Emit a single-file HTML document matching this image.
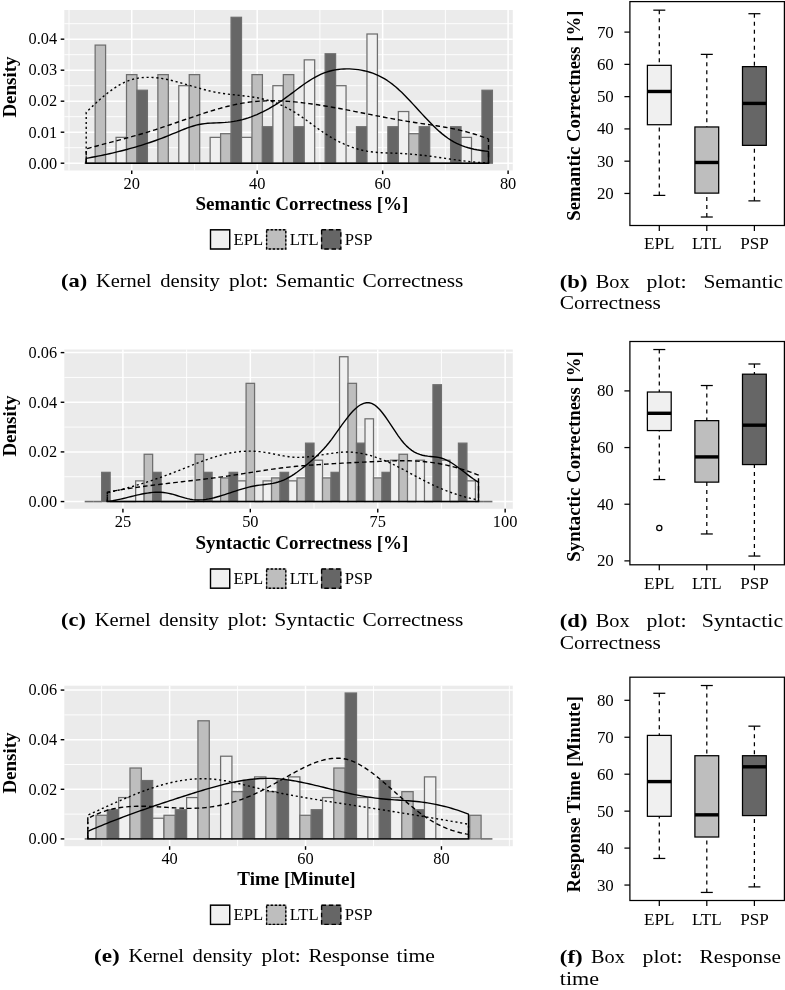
<!DOCTYPE html>
<html lang="en"><head><meta charset="utf-8"><title>Kernel density plots and box plots</title>
<style>
html,body{margin:0;padding:0;background:#fff;}
body{width:785px;height:990px;overflow:hidden;}
svg{display:block;font-family:'Liberation Serif', 'DejaVu Serif', serif;}
text{fill:#000;}
</style></head><body>
<svg width="785" height="990" viewBox="0 0 785 990">
<rect width="785" height="990" fill="#fff"/>
<g>
<rect x="64.3" y="10" width="448.5" height="160.5" fill="#ebebeb"/>
<line x1="64.3" x2="512.8" y1="147.7" y2="147.7" stroke="#fff" stroke-width="0.9"/>
<line x1="64.3" x2="512.8" y1="116.7" y2="116.7" stroke="#fff" stroke-width="0.9"/>
<line x1="64.3" x2="512.8" y1="85.69" y2="85.69" stroke="#fff" stroke-width="0.9"/>
<line x1="64.3" x2="512.8" y1="54.68" y2="54.68" stroke="#fff" stroke-width="0.9"/>
<line x1="64.3" x2="512.8" y1="23.68" y2="23.68" stroke="#fff" stroke-width="0.9"/>
<line y1="10" y2="170.5" x1="69" x2="69" stroke="#fff" stroke-width="0.9"/>
<line y1="10" y2="170.5" x1="194.46" x2="194.46" stroke="#fff" stroke-width="0.9"/>
<line y1="10" y2="170.5" x1="319.91" x2="319.91" stroke="#fff" stroke-width="0.9"/>
<line y1="10" y2="170.5" x1="445.37" x2="445.37" stroke="#fff" stroke-width="0.9"/>
<line x1="64.3" x2="512.8" y1="163.2" y2="163.2" stroke="#fff" stroke-width="1.5"/>
<line x1="64.3" x2="512.8" y1="132.2" y2="132.2" stroke="#fff" stroke-width="1.5"/>
<line x1="64.3" x2="512.8" y1="101.19" y2="101.19" stroke="#fff" stroke-width="1.5"/>
<line x1="64.3" x2="512.8" y1="70.19" y2="70.19" stroke="#fff" stroke-width="1.5"/>
<line x1="64.3" x2="512.8" y1="39.18" y2="39.18" stroke="#fff" stroke-width="1.5"/>
<line y1="10" y2="170.5" x1="131.73" x2="131.73" stroke="#fff" stroke-width="1.5"/>
<line y1="10" y2="170.5" x1="257.19" x2="257.19" stroke="#fff" stroke-width="1.5"/>
<line y1="10" y2="170.5" x1="382.64" x2="382.64" stroke="#fff" stroke-width="1.5"/>
<line y1="10" y2="170.5" x1="508.1" x2="508.1" stroke="#fff" stroke-width="1.5"/>
<line x1="84.69" x2="95.14" y1="163.2" y2="163.2" stroke="#6e6e6e" stroke-width="1.6"/>
<rect x="95.14" y="45.09" width="10.45" height="118.12" fill="#bebebe" stroke="#6e6e6e" stroke-width="1.25"/>
<line x1="105.6" x2="116.05" y1="163.2" y2="163.2" stroke="#6e6e6e" stroke-width="1.6"/>
<rect x="116.05" y="137.37" width="10.45" height="25.84" fill="#f0f0f0" stroke="#6e6e6e" stroke-width="1.25"/>
<rect x="126.5" y="74.62" width="10.45" height="88.59" fill="#bebebe" stroke="#6e6e6e" stroke-width="1.25"/>
<rect x="136.96" y="90.25" width="10.45" height="72.95" fill="#666666" stroke="#6e6e6e" stroke-width="1.25"/>
<line x1="147.41" x2="157.87" y1="163.2" y2="163.2" stroke="#6e6e6e" stroke-width="1.6"/>
<rect x="157.87" y="74.62" width="10.45" height="88.59" fill="#bebebe" stroke="#6e6e6e" stroke-width="1.25"/>
<line x1="168.32" x2="178.78" y1="163.2" y2="163.2" stroke="#6e6e6e" stroke-width="1.6"/>
<rect x="178.78" y="85.69" width="10.45" height="77.51" fill="#f0f0f0" stroke="#6e6e6e" stroke-width="1.25"/>
<rect x="189.23" y="74.62" width="10.45" height="88.59" fill="#bebebe" stroke="#6e6e6e" stroke-width="1.25"/>
<line x1="199.69" x2="210.14" y1="163.2" y2="163.2" stroke="#6e6e6e" stroke-width="1.6"/>
<rect x="210.14" y="137.37" width="10.45" height="25.84" fill="#f0f0f0" stroke="#6e6e6e" stroke-width="1.25"/>
<rect x="220.6" y="133.68" width="10.45" height="29.53" fill="#bebebe" stroke="#6e6e6e" stroke-width="1.25"/>
<rect x="231.05" y="17.3" width="10.45" height="145.91" fill="#666666" stroke="#6e6e6e" stroke-width="1.25"/>
<rect x="241.5" y="137.37" width="10.45" height="25.84" fill="#f0f0f0" stroke="#6e6e6e" stroke-width="1.25"/>
<rect x="251.96" y="74.62" width="10.45" height="88.59" fill="#bebebe" stroke="#6e6e6e" stroke-width="1.25"/>
<rect x="262.41" y="126.73" width="10.45" height="36.48" fill="#666666" stroke="#6e6e6e" stroke-width="1.25"/>
<rect x="272.87" y="85.69" width="10.45" height="77.51" fill="#f0f0f0" stroke="#6e6e6e" stroke-width="1.25"/>
<rect x="283.32" y="74.62" width="10.45" height="88.59" fill="#bebebe" stroke="#6e6e6e" stroke-width="1.25"/>
<rect x="293.78" y="126.73" width="10.45" height="36.48" fill="#666666" stroke="#6e6e6e" stroke-width="1.25"/>
<rect x="304.23" y="59.85" width="10.45" height="103.35" fill="#f0f0f0" stroke="#6e6e6e" stroke-width="1.25"/>
<line x1="314.69" x2="325.14" y1="163.2" y2="163.2" stroke="#6e6e6e" stroke-width="1.6"/>
<rect x="325.14" y="53.77" width="10.45" height="109.43" fill="#666666" stroke="#6e6e6e" stroke-width="1.25"/>
<rect x="335.6" y="85.69" width="10.45" height="77.51" fill="#f0f0f0" stroke="#6e6e6e" stroke-width="1.25"/>
<line x1="346.05" x2="356.5" y1="163.2" y2="163.2" stroke="#6e6e6e" stroke-width="1.6"/>
<rect x="356.5" y="126.73" width="10.45" height="36.48" fill="#666666" stroke="#6e6e6e" stroke-width="1.25"/>
<rect x="366.96" y="34.01" width="10.45" height="129.19" fill="#f0f0f0" stroke="#6e6e6e" stroke-width="1.25"/>
<line x1="377.41" x2="387.87" y1="163.2" y2="163.2" stroke="#6e6e6e" stroke-width="1.6"/>
<rect x="387.87" y="126.73" width="10.45" height="36.48" fill="#666666" stroke="#6e6e6e" stroke-width="1.25"/>
<rect x="398.32" y="111.53" width="10.45" height="51.68" fill="#f0f0f0" stroke="#6e6e6e" stroke-width="1.25"/>
<rect x="408.78" y="133.68" width="10.45" height="29.53" fill="#bebebe" stroke="#6e6e6e" stroke-width="1.25"/>
<rect x="419.23" y="126.73" width="10.45" height="36.48" fill="#666666" stroke="#6e6e6e" stroke-width="1.25"/>
<line x1="429.69" x2="440.14" y1="163.2" y2="163.2" stroke="#6e6e6e" stroke-width="1.6"/>
<line x1="440.14" x2="450.6" y1="163.2" y2="163.2" stroke="#6e6e6e" stroke-width="1.6"/>
<rect x="450.6" y="126.73" width="10.45" height="36.48" fill="#666666" stroke="#6e6e6e" stroke-width="1.25"/>
<rect x="461.05" y="137.37" width="10.45" height="25.84" fill="#f0f0f0" stroke="#6e6e6e" stroke-width="1.25"/>
<line x1="471.5" x2="481.96" y1="163.2" y2="163.2" stroke="#6e6e6e" stroke-width="1.6"/>
<rect x="481.96" y="90.25" width="10.45" height="72.95" fill="#666666" stroke="#6e6e6e" stroke-width="1.25"/>
<path d="M86.2,163.2 L86.2,158.33 L89.09,157.81 L91.99,157.27 L94.88,156.72 L97.78,156.15 L100.67,155.57 L103.57,154.97 L106.46,154.35 L109.35,153.71 L112.25,153.06 L115.14,152.38 L118.04,151.69 L120.93,150.97 L123.83,150.23 L126.72,149.47 L129.61,148.69 L132.51,147.88 L135.4,147.05 L138.3,146.19 L141.19,145.31 L144.08,144.4 L146.98,143.46 L149.87,142.5 L152.77,141.51 L155.66,140.49 L158.56,139.44 L161.45,138.36 L164.34,137.25 L167.24,136.1 L170.13,134.93 L173.03,133.73 L175.92,132.52 L178.82,131.31 L181.71,130.13 L184.6,128.99 L187.5,127.91 L190.39,126.91 L193.29,125.99 L196.18,125.19 L199.08,124.52 L201.97,123.99 L204.86,123.59 L207.76,123.3 L210.65,123.09 L213.55,122.94 L216.44,122.82 L219.34,122.71 L222.23,122.59 L225.12,122.42 L228.02,122.18 L230.91,121.86 L233.81,121.43 L236.7,120.91 L239.59,120.28 L242.49,119.56 L245.38,118.74 L248.28,117.83 L251.17,116.82 L254.07,115.72 L256.96,114.53 L259.85,113.24 L262.75,111.86 L265.64,110.4 L268.54,108.84 L271.43,107.19 L274.33,105.46 L277.22,103.64 L280.11,101.74 L283.01,99.75 L285.9,97.68 L288.8,95.56 L291.69,93.39 L294.59,91.21 L297.48,89.04 L300.37,86.89 L303.27,84.79 L306.16,82.76 L309.06,80.82 L311.95,79 L314.85,77.3 L317.74,75.77 L320.63,74.4 L323.53,73.2 L326.42,72.15 L329.32,71.26 L332.21,70.52 L335.11,69.93 L338,69.47 L340.89,69.15 L343.79,68.95 L346.68,68.87 L349.58,68.92 L352.47,69.07 L355.36,69.33 L358.26,69.69 L361.15,70.16 L364.05,70.73 L366.94,71.43 L369.84,72.26 L372.73,73.22 L375.62,74.33 L378.52,75.61 L381.41,77.05 L384.31,78.66 L387.2,80.46 L390.1,82.46 L392.99,84.66 L395.88,87.06 L398.78,89.64 L401.67,92.37 L404.57,95.23 L407.46,98.21 L410.36,101.27 L413.25,104.39 L416.14,107.54 L419.04,110.71 L421.93,113.87 L424.83,117 L427.72,120.08 L430.62,123.08 L433.51,125.98 L436.4,128.76 L439.3,131.39 L442.19,133.86 L445.09,136.15 L447.98,138.23 L450.87,140.1 L453.77,141.78 L456.66,143.29 L459.56,144.62 L462.45,145.8 L465.35,146.84 L468.24,147.74 L471.13,148.53 L474.03,149.21 L476.92,149.79 L479.82,150.28 L482.71,150.71 L485.61,151.08 L488.5,151.39 L488.5,163.2" fill="none" stroke="#000" stroke-width="1.38" stroke-linejoin="round"/>
<path d="M86.2,163.2 L86.2,112.34 L89.09,109.51 L91.99,106.73 L94.88,104.01 L97.78,101.36 L100.67,98.79 L103.57,96.32 L106.46,93.96 L109.35,91.72 L112.25,89.6 L115.14,87.63 L118.04,85.81 L120.93,84.16 L123.83,82.68 L126.72,81.39 L129.61,80.3 L132.51,79.39 L135.4,78.66 L138.3,78.1 L141.19,77.7 L144.08,77.44 L146.98,77.32 L149.87,77.33 L152.77,77.45 L155.66,77.69 L158.56,78.02 L161.45,78.43 L164.34,78.93 L167.24,79.5 L170.13,80.13 L173.03,80.82 L175.92,81.55 L178.82,82.33 L181.71,83.14 L184.6,83.97 L187.5,84.81 L190.39,85.67 L193.29,86.52 L196.18,87.37 L199.08,88.2 L201.97,89.01 L204.86,89.78 L207.76,90.52 L210.65,91.2 L213.55,91.83 L216.44,92.4 L219.34,92.91 L222.23,93.36 L225.12,93.76 L228.02,94.13 L230.91,94.47 L233.81,94.79 L236.7,95.11 L239.59,95.42 L242.49,95.74 L245.38,96.08 L248.28,96.44 L251.17,96.84 L254.07,97.28 L256.96,97.78 L259.85,98.33 L262.75,98.96 L265.64,99.67 L268.54,100.47 L271.43,101.36 L274.33,102.35 L277.22,103.44 L280.11,104.63 L283.01,105.92 L285.9,107.32 L288.8,108.83 L291.69,110.46 L294.59,112.19 L297.48,114.04 L300.37,115.98 L303.27,117.99 L306.16,120.06 L309.06,122.16 L311.95,124.28 L314.85,126.39 L317.74,128.48 L320.63,130.53 L323.53,132.52 L326.42,134.43 L329.32,136.24 L332.21,137.97 L335.11,139.61 L338,141.15 L340.89,142.59 L343.79,143.95 L346.68,145.2 L349.58,146.36 L352.47,147.42 L355.36,148.37 L358.26,149.23 L361.15,149.99 L364.05,150.64 L366.94,151.19 L369.84,151.64 L372.73,152 L375.62,152.29 L378.52,152.51 L381.41,152.69 L384.31,152.83 L387.2,152.94 L390.1,153.03 L392.99,153.12 L395.88,153.22 L398.78,153.34 L401.67,153.49 L404.57,153.67 L407.46,153.87 L410.36,154.09 L413.25,154.34 L416.14,154.62 L419.04,154.91 L421.93,155.23 L424.83,155.56 L427.72,155.91 L430.62,156.28 L433.51,156.67 L436.4,157.07 L439.3,157.49 L442.19,157.92 L445.09,158.35 L447.98,158.78 L450.87,159.21 L453.77,159.63 L456.66,160.04 L459.56,160.44 L462.45,160.82 L465.35,161.17 L468.24,161.49 L471.13,161.79 L474.03,162.05 L476.92,162.26 L479.82,162.44 L482.71,162.56 L485.61,162.64 L488.5,162.65 L488.5,163.2" fill="none" stroke="#000" stroke-width="1.38" stroke-linejoin="round" stroke-dasharray="2.1 2.8"/>
<path d="M86.2,163.2 L86.2,148.98 L89.09,148.14 L91.99,147.32 L94.88,146.52 L97.78,145.72 L100.67,144.94 L103.57,144.16 L106.46,143.39 L109.35,142.63 L112.25,141.86 L115.14,141.1 L118.04,140.34 L120.93,139.57 L123.83,138.8 L126.72,138.03 L129.61,137.25 L132.51,136.45 L135.4,135.65 L138.3,134.83 L141.19,134 L144.08,133.15 L146.98,132.29 L149.87,131.4 L152.77,130.5 L155.66,129.57 L158.56,128.63 L161.45,127.68 L164.34,126.72 L167.24,125.74 L170.13,124.76 L173.03,123.77 L175.92,122.77 L178.82,121.77 L181.71,120.77 L184.6,119.77 L187.5,118.77 L190.39,117.78 L193.29,116.8 L196.18,115.82 L199.08,114.85 L201.97,113.89 L204.86,112.95 L207.76,112.02 L210.65,111.12 L213.55,110.23 L216.44,109.37 L219.34,108.54 L222.23,107.74 L225.12,106.97 L228.02,106.23 L230.91,105.53 L233.81,104.87 L236.7,104.26 L239.59,103.68 L242.49,103.16 L245.38,102.69 L248.28,102.27 L251.17,101.9 L254.07,101.59 L256.96,101.33 L259.85,101.13 L262.75,100.97 L265.64,100.85 L268.54,100.78 L271.43,100.76 L274.33,100.77 L277.22,100.83 L280.11,100.92 L283.01,101.05 L285.9,101.22 L288.8,101.41 L291.69,101.64 L294.59,101.9 L297.48,102.18 L300.37,102.49 L303.27,102.83 L306.16,103.18 L309.06,103.56 L311.95,103.96 L314.85,104.37 L317.74,104.8 L320.63,105.25 L323.53,105.72 L326.42,106.2 L329.32,106.69 L332.21,107.2 L335.11,107.71 L338,108.24 L340.89,108.78 L343.79,109.32 L346.68,109.87 L349.58,110.43 L352.47,111 L355.36,111.57 L358.26,112.14 L361.15,112.71 L364.05,113.29 L366.94,113.86 L369.84,114.44 L372.73,115.01 L375.62,115.58 L378.52,116.15 L381.41,116.71 L384.31,117.27 L387.2,117.82 L390.1,118.36 L392.99,118.89 L395.88,119.41 L398.78,119.92 L401.67,120.42 L404.57,120.91 L407.46,121.38 L410.36,121.84 L413.25,122.29 L416.14,122.73 L419.04,123.16 L421.93,123.59 L424.83,124.01 L427.72,124.44 L430.62,124.88 L433.51,125.32 L436.4,125.78 L439.3,126.24 L442.19,126.73 L445.09,127.23 L447.98,127.76 L450.87,128.31 L453.77,128.89 L456.66,129.5 L459.56,130.14 L462.45,130.82 L465.35,131.54 L468.24,132.3 L471.13,133.11 L474.03,133.97 L476.92,134.87 L479.82,135.83 L482.71,136.85 L485.61,137.92 L488.5,139.06 L488.5,163.2" fill="none" stroke="#000" stroke-width="1.38" stroke-linejoin="round" stroke-dasharray="4.6 3.0"/>
<line x1="85.5" x2="489.2" y1="163.2" y2="163.2" stroke="#000" stroke-width="1.4"/>
<line x1="60.7" x2="64.3" y1="163.2" y2="163.2" stroke="#000" stroke-width="1.4"/>
<text x="57.1" y="168.5" text-anchor="end" font-size="16.3">0.00</text>
<line x1="60.7" x2="64.3" y1="132.2" y2="132.2" stroke="#000" stroke-width="1.4"/>
<text x="57.1" y="137.5" text-anchor="end" font-size="16.3">0.01</text>
<line x1="60.7" x2="64.3" y1="101.19" y2="101.19" stroke="#000" stroke-width="1.4"/>
<text x="57.1" y="106.49" text-anchor="end" font-size="16.3">0.02</text>
<line x1="60.7" x2="64.3" y1="70.19" y2="70.19" stroke="#000" stroke-width="1.4"/>
<text x="57.1" y="75.49" text-anchor="end" font-size="16.3">0.03</text>
<line x1="60.7" x2="64.3" y1="39.18" y2="39.18" stroke="#000" stroke-width="1.4"/>
<text x="57.1" y="44.48" text-anchor="end" font-size="16.3">0.04</text>
<line y1="170.5" y2="174.1" x1="131.73" x2="131.73" stroke="#000" stroke-width="1.4"/>
<text x="131.73" y="189.1" text-anchor="middle" font-size="16.4">20</text>
<line y1="170.5" y2="174.1" x1="257.19" x2="257.19" stroke="#000" stroke-width="1.4"/>
<text x="257.19" y="189.1" text-anchor="middle" font-size="16.4">40</text>
<line y1="170.5" y2="174.1" x1="382.64" x2="382.64" stroke="#000" stroke-width="1.4"/>
<text x="382.64" y="189.1" text-anchor="middle" font-size="16.4">60</text>
<line y1="170.5" y2="174.1" x1="508.1" x2="508.1" stroke="#000" stroke-width="1.4"/>
<text x="508.1" y="189.1" text-anchor="middle" font-size="16.4">80</text>
<text x="301.9" y="209.7" text-anchor="middle" font-size="19" font-weight="bold">Semantic Correctness [%]</text>
<text transform="translate(16.3,87) rotate(-90)" text-anchor="middle" font-size="19" font-weight="bold">Density</text>
<rect x="210.5" y="229.8" width="19.2" height="19.2" fill="#f0f0f0" stroke="#6e6e6e" stroke-width="1"/>
<rect x="210.5" y="229.8" width="19.2" height="19.2" fill="none" stroke="#000" stroke-width="1.4"/>
<text x="233.6" y="244.8" font-size="16.6">EPL</text>
<rect x="266.6" y="229.8" width="19.2" height="19.2" fill="#bebebe" stroke="#6e6e6e" stroke-width="1"/>
<rect x="266.6" y="229.8" width="19.2" height="19.2" fill="none" stroke="#000" stroke-width="1.4" stroke-dasharray="2.2 1.9"/>
<text x="289.7" y="244.8" font-size="16.6">LTL</text>
<rect x="321.6" y="229.8" width="19.2" height="19.2" fill="#666666" stroke="#6e6e6e" stroke-width="1"/>
<rect x="321.6" y="229.8" width="19.2" height="19.2" fill="none" stroke="#000" stroke-width="1.4" stroke-dasharray="4.5 2.7"/>
<text x="344.7" y="244.8" font-size="16.6">PSP</text>
</g>
<g>
<rect x="64.3" y="349.5" width="448.5" height="159.3" fill="#ebebeb"/>
<line x1="64.3" x2="512.8" y1="476.73" y2="476.73" stroke="#fff" stroke-width="0.9"/>
<line x1="64.3" x2="512.8" y1="427.08" y2="427.08" stroke="#fff" stroke-width="0.9"/>
<line x1="64.3" x2="512.8" y1="377.43" y2="377.43" stroke="#fff" stroke-width="0.9"/>
<line y1="349.5" y2="508.8" x1="186.62" x2="186.62" stroke="#fff" stroke-width="0.9"/>
<line y1="349.5" y2="508.8" x1="314.03" x2="314.03" stroke="#fff" stroke-width="0.9"/>
<line y1="349.5" y2="508.8" x1="441.45" x2="441.45" stroke="#fff" stroke-width="0.9"/>
<line x1="64.3" x2="512.8" y1="501.56" y2="501.56" stroke="#fff" stroke-width="1.5"/>
<line x1="64.3" x2="512.8" y1="451.91" y2="451.91" stroke="#fff" stroke-width="1.5"/>
<line x1="64.3" x2="512.8" y1="402.26" y2="402.26" stroke="#fff" stroke-width="1.5"/>
<line x1="64.3" x2="512.8" y1="352.6" y2="352.6" stroke="#fff" stroke-width="1.5"/>
<line y1="349.5" y2="508.8" x1="122.91" x2="122.91" stroke="#fff" stroke-width="1.5"/>
<line y1="349.5" y2="508.8" x1="250.33" x2="250.33" stroke="#fff" stroke-width="1.5"/>
<line y1="349.5" y2="508.8" x1="377.74" x2="377.74" stroke="#fff" stroke-width="1.5"/>
<line y1="349.5" y2="508.8" x1="505.16" x2="505.16" stroke="#fff" stroke-width="1.5"/>
<line x1="84.69" x2="93.18" y1="501.56" y2="501.56" stroke="#6e6e6e" stroke-width="1.6"/>
<line x1="93.18" x2="101.67" y1="501.56" y2="501.56" stroke="#6e6e6e" stroke-width="1.6"/>
<rect x="101.67" y="472.35" width="8.49" height="29.21" fill="#666666" stroke="#6e6e6e" stroke-width="1.25"/>
<line x1="110.17" x2="118.66" y1="501.56" y2="501.56" stroke="#6e6e6e" stroke-width="1.6"/>
<line x1="118.66" x2="127.16" y1="501.56" y2="501.56" stroke="#6e6e6e" stroke-width="1.6"/>
<line x1="127.16" x2="135.65" y1="501.56" y2="501.56" stroke="#6e6e6e" stroke-width="1.6"/>
<rect x="135.65" y="480.87" width="8.49" height="20.69" fill="#f0f0f0" stroke="#6e6e6e" stroke-width="1.25"/>
<rect x="144.15" y="454.27" width="8.49" height="47.29" fill="#bebebe" stroke="#6e6e6e" stroke-width="1.25"/>
<rect x="152.64" y="472.35" width="8.49" height="29.21" fill="#666666" stroke="#6e6e6e" stroke-width="1.25"/>
<line x1="161.14" x2="169.63" y1="501.56" y2="501.56" stroke="#6e6e6e" stroke-width="1.6"/>
<line x1="169.63" x2="178.12" y1="501.56" y2="501.56" stroke="#6e6e6e" stroke-width="1.6"/>
<line x1="178.12" x2="186.62" y1="501.56" y2="501.56" stroke="#6e6e6e" stroke-width="1.6"/>
<line x1="186.62" x2="195.11" y1="501.56" y2="501.56" stroke="#6e6e6e" stroke-width="1.6"/>
<rect x="195.11" y="454.27" width="8.49" height="47.29" fill="#bebebe" stroke="#6e6e6e" stroke-width="1.25"/>
<rect x="203.61" y="472.35" width="8.49" height="29.21" fill="#666666" stroke="#6e6e6e" stroke-width="1.25"/>
<line x1="212.1" x2="220.6" y1="501.56" y2="501.56" stroke="#6e6e6e" stroke-width="1.6"/>
<rect x="220.6" y="477.92" width="8.49" height="23.64" fill="#bebebe" stroke="#6e6e6e" stroke-width="1.25"/>
<rect x="229.09" y="472.35" width="8.49" height="29.21" fill="#666666" stroke="#6e6e6e" stroke-width="1.25"/>
<rect x="237.58" y="480.87" width="8.49" height="20.69" fill="#f0f0f0" stroke="#6e6e6e" stroke-width="1.25"/>
<rect x="246.08" y="383.34" width="8.49" height="118.22" fill="#bebebe" stroke="#6e6e6e" stroke-width="1.25"/>
<line x1="254.57" x2="263.07" y1="501.56" y2="501.56" stroke="#6e6e6e" stroke-width="1.6"/>
<rect x="263.07" y="480.87" width="8.49" height="20.69" fill="#f0f0f0" stroke="#6e6e6e" stroke-width="1.25"/>
<rect x="271.56" y="477.92" width="8.49" height="23.64" fill="#bebebe" stroke="#6e6e6e" stroke-width="1.25"/>
<rect x="280.06" y="472.35" width="8.49" height="29.21" fill="#666666" stroke="#6e6e6e" stroke-width="1.25"/>
<rect x="288.55" y="480.87" width="8.49" height="20.69" fill="#f0f0f0" stroke="#6e6e6e" stroke-width="1.25"/>
<rect x="297.04" y="477.92" width="8.49" height="23.64" fill="#bebebe" stroke="#6e6e6e" stroke-width="1.25"/>
<rect x="305.54" y="443.15" width="8.49" height="58.41" fill="#666666" stroke="#6e6e6e" stroke-width="1.25"/>
<rect x="314.03" y="460.18" width="8.49" height="41.38" fill="#f0f0f0" stroke="#6e6e6e" stroke-width="1.25"/>
<rect x="322.53" y="477.92" width="8.49" height="23.64" fill="#bebebe" stroke="#6e6e6e" stroke-width="1.25"/>
<rect x="331.02" y="472.35" width="8.49" height="29.21" fill="#666666" stroke="#6e6e6e" stroke-width="1.25"/>
<rect x="339.52" y="356.74" width="8.49" height="144.82" fill="#f0f0f0" stroke="#6e6e6e" stroke-width="1.25"/>
<rect x="348.01" y="383.34" width="8.49" height="118.22" fill="#bebebe" stroke="#6e6e6e" stroke-width="1.25"/>
<rect x="356.5" y="443.15" width="8.49" height="58.41" fill="#666666" stroke="#6e6e6e" stroke-width="1.25"/>
<rect x="365" y="418.81" width="8.49" height="82.75" fill="#f0f0f0" stroke="#6e6e6e" stroke-width="1.25"/>
<rect x="373.49" y="477.92" width="8.49" height="23.64" fill="#bebebe" stroke="#6e6e6e" stroke-width="1.25"/>
<rect x="381.99" y="472.35" width="8.49" height="29.21" fill="#666666" stroke="#6e6e6e" stroke-width="1.25"/>
<rect x="390.48" y="460.18" width="8.49" height="41.38" fill="#f0f0f0" stroke="#6e6e6e" stroke-width="1.25"/>
<rect x="398.98" y="454.27" width="8.49" height="47.29" fill="#bebebe" stroke="#6e6e6e" stroke-width="1.25"/>
<line x1="407.47" x2="415.96" y1="501.56" y2="501.56" stroke="#6e6e6e" stroke-width="1.6"/>
<rect x="415.96" y="460.18" width="8.49" height="41.38" fill="#f0f0f0" stroke="#6e6e6e" stroke-width="1.25"/>
<line x1="424.46" x2="432.95" y1="501.56" y2="501.56" stroke="#6e6e6e" stroke-width="1.6"/>
<rect x="432.95" y="384.73" width="8.49" height="116.83" fill="#666666" stroke="#6e6e6e" stroke-width="1.25"/>
<rect x="441.45" y="460.18" width="8.49" height="41.38" fill="#f0f0f0" stroke="#6e6e6e" stroke-width="1.25"/>
<line x1="449.94" x2="458.44" y1="501.56" y2="501.56" stroke="#6e6e6e" stroke-width="1.6"/>
<rect x="458.44" y="443.15" width="8.49" height="58.41" fill="#666666" stroke="#6e6e6e" stroke-width="1.25"/>
<rect x="466.93" y="480.87" width="8.49" height="20.69" fill="#f0f0f0" stroke="#6e6e6e" stroke-width="1.25"/>
<line x1="475.42" x2="483.92" y1="501.56" y2="501.56" stroke="#6e6e6e" stroke-width="1.6"/>
<line x1="483.92" x2="492.41" y1="501.56" y2="501.56" stroke="#6e6e6e" stroke-width="1.6"/>
<path d="M107.3,501.56 L107.3,501.39 L109.97,501.08 L112.64,500.69 L115.31,500.22 L117.98,499.69 L120.65,499.1 L123.32,498.48 L125.99,497.83 L128.66,497.17 L131.33,496.5 L134.01,495.84 L136.68,495.2 L139.35,494.59 L142.02,494.02 L144.69,493.51 L147.36,493.07 L150.03,492.7 L152.7,492.43 L155.37,492.25 L158.04,492.19 L160.71,492.26 L163.38,492.46 L166.05,492.81 L168.72,493.32 L171.39,493.96 L174.06,494.7 L176.73,495.5 L179.4,496.32 L182.07,497.14 L184.74,497.92 L187.42,498.62 L190.09,499.2 L192.76,499.64 L195.43,499.91 L198.1,499.99 L200.77,499.92 L203.44,499.71 L206.11,499.36 L208.78,498.9 L211.45,498.35 L214.12,497.71 L216.79,497 L219.46,496.24 L222.13,495.43 L224.8,494.58 L227.47,493.71 L230.14,492.83 L232.81,491.94 L235.48,491.06 L238.15,490.2 L240.83,489.36 L243.5,488.57 L246.17,487.82 L248.84,487.13 L251.51,486.52 L254.18,485.98 L256.85,485.54 L259.52,485.16 L262.19,484.83 L264.86,484.5 L267.53,484.16 L270.2,483.78 L272.87,483.31 L275.54,482.74 L278.21,482.03 L280.88,481.16 L283.55,480.09 L286.22,478.83 L288.89,477.39 L291.56,475.8 L294.24,474.07 L296.91,472.22 L299.58,470.26 L302.25,468.21 L304.92,466.09 L307.59,463.91 L310.26,461.68 L312.93,459.38 L315.6,456.97 L318.27,454.45 L320.94,451.79 L323.61,448.96 L326.28,445.95 L328.95,442.74 L331.62,439.3 L334.29,435.69 L336.96,431.97 L339.63,428.21 L342.3,424.47 L344.97,420.83 L347.65,417.33 L350.32,414.06 L352.99,411.08 L355.66,408.46 L358.33,406.26 L361,404.54 L363.67,403.35 L366.34,402.74 L369.01,402.75 L371.68,403.43 L374.35,404.81 L377.02,406.89 L379.69,409.56 L382.36,412.72 L385.03,416.26 L387.7,420.08 L390.37,424.07 L393.04,428.13 L395.71,432.16 L398.38,436.05 L401.06,439.7 L403.73,443 L406.4,445.87 L409.07,448.32 L411.74,450.37 L414.41,452.05 L417.08,453.41 L419.75,454.46 L422.42,455.25 L425.09,455.8 L427.76,456.17 L430.43,456.44 L433.1,456.69 L435.77,456.98 L438.44,457.4 L441.11,458.01 L443.78,458.88 L446.45,460.04 L449.12,461.43 L451.79,463.03 L454.47,464.79 L457.14,466.69 L459.81,468.68 L462.48,470.73 L465.15,472.81 L467.82,474.86 L470.49,476.87 L473.16,478.79 L475.83,480.58 L478.5,482.21 L478.5,501.56" fill="none" stroke="#000" stroke-width="1.38" stroke-linejoin="round"/>
<path d="M107.3,501.56 L107.3,492.74 L109.97,492.15 L112.64,491.54 L115.31,490.91 L117.98,490.27 L120.65,489.6 L123.32,488.91 L125.99,488.21 L128.66,487.48 L131.33,486.74 L134.01,485.98 L136.68,485.2 L139.35,484.4 L142.02,483.58 L144.69,482.74 L147.36,481.89 L150.03,481.02 L152.7,480.13 L155.37,479.22 L158.04,478.29 L160.71,477.35 L163.38,476.39 L166.05,475.42 L168.72,474.42 L171.39,473.42 L174.06,472.39 L176.73,471.35 L179.4,470.29 L182.07,469.22 L184.74,468.15 L187.42,467.08 L190.09,466 L192.76,464.93 L195.43,463.88 L198.1,462.83 L200.77,461.81 L203.44,460.81 L206.11,459.84 L208.78,458.9 L211.45,457.99 L214.12,457.12 L216.79,456.3 L219.46,455.53 L222.13,454.81 L224.8,454.15 L227.47,453.54 L230.14,453.01 L232.81,452.54 L235.48,452.13 L238.15,451.8 L240.83,451.53 L243.5,451.33 L246.17,451.21 L248.84,451.15 L251.51,451.17 L254.18,451.26 L256.85,451.42 L259.52,451.66 L262.19,451.97 L264.86,452.36 L267.53,452.81 L270.2,453.3 L272.87,453.83 L275.54,454.37 L278.21,454.9 L280.88,455.43 L283.55,455.91 L286.22,456.35 L288.89,456.72 L291.56,457.01 L294.24,457.21 L296.91,457.32 L299.58,457.34 L302.25,457.27 L304.92,457.12 L307.59,456.89 L310.26,456.6 L312.93,456.26 L315.6,455.87 L318.27,455.46 L320.94,455.02 L323.61,454.58 L326.28,454.14 L328.95,453.72 L331.62,453.32 L334.29,452.95 L336.96,452.63 L339.63,452.37 L342.3,452.18 L344.97,452.07 L347.65,452.05 L350.32,452.13 L352.99,452.3 L355.66,452.56 L358.33,452.91 L361,453.35 L363.67,453.87 L366.34,454.48 L369.01,455.16 L371.68,455.92 L374.35,456.75 L377.02,457.65 L379.69,458.62 L382.36,459.66 L385.03,460.76 L387.7,461.92 L390.37,463.13 L393.04,464.4 L395.71,465.7 L398.38,467.04 L401.06,468.41 L403.73,469.81 L406.4,471.22 L409.07,472.65 L411.74,474.08 L414.41,475.51 L417.08,476.94 L419.75,478.35 L422.42,479.75 L425.09,481.12 L427.76,482.46 L430.43,483.77 L433.1,485.04 L435.77,486.26 L438.44,487.45 L441.11,488.6 L443.78,489.7 L446.45,490.77 L449.12,491.79 L451.79,492.76 L454.47,493.69 L457.14,494.58 L459.81,495.42 L462.48,496.22 L465.15,496.97 L467.82,497.67 L470.49,498.32 L473.16,498.92 L475.83,499.48 L478.5,499.98 L478.5,501.56" fill="none" stroke="#000" stroke-width="1.38" stroke-linejoin="round" stroke-dasharray="2.1 2.8"/>
<path d="M107.3,501.56 L107.3,492.12 L109.97,491.63 L112.64,491.16 L115.31,490.69 L117.98,490.24 L120.65,489.8 L123.32,489.37 L125.99,488.95 L128.66,488.54 L131.33,488.14 L134.01,487.75 L136.68,487.37 L139.35,487 L142.02,486.63 L144.69,486.27 L147.36,485.92 L150.03,485.58 L152.7,485.24 L155.37,484.9 L158.04,484.57 L160.71,484.24 L163.38,483.92 L166.05,483.6 L168.72,483.29 L171.39,482.97 L174.06,482.66 L176.73,482.35 L179.4,482.04 L182.07,481.73 L184.74,481.42 L187.42,481.11 L190.09,480.8 L192.76,480.49 L195.43,480.18 L198.1,479.86 L200.77,479.54 L203.44,479.21 L206.11,478.89 L208.78,478.55 L211.45,478.22 L214.12,477.87 L216.79,477.52 L219.46,477.17 L222.13,476.81 L224.8,476.44 L227.47,476.06 L230.14,475.67 L232.81,475.28 L235.48,474.88 L238.15,474.47 L240.83,474.05 L243.5,473.63 L246.17,473.21 L248.84,472.79 L251.51,472.37 L254.18,471.95 L256.85,471.53 L259.52,471.11 L262.19,470.7 L264.86,470.29 L267.53,469.89 L270.2,469.5 L272.87,469.12 L275.54,468.74 L278.21,468.38 L280.88,468.03 L283.55,467.7 L286.22,467.38 L288.89,467.08 L291.56,466.79 L294.24,466.52 L296.91,466.27 L299.58,466.02 L302.25,465.79 L304.92,465.57 L307.59,465.36 L310.26,465.16 L312.93,464.97 L315.6,464.79 L318.27,464.61 L320.94,464.44 L323.61,464.27 L326.28,464.11 L328.95,463.95 L331.62,463.79 L334.29,463.63 L336.96,463.48 L339.63,463.33 L342.3,463.18 L344.97,463.04 L347.65,462.89 L350.32,462.75 L352.99,462.62 L355.66,462.48 L358.33,462.35 L361,462.22 L363.67,462.09 L366.34,461.96 L369.01,461.83 L371.68,461.71 L374.35,461.59 L377.02,461.47 L379.69,461.35 L382.36,461.24 L385.03,461.13 L387.7,461.02 L390.37,460.93 L393.04,460.85 L395.71,460.78 L398.38,460.73 L401.06,460.7 L403.73,460.69 L406.4,460.71 L409.07,460.75 L411.74,460.83 L414.41,460.93 L417.08,461.07 L419.75,461.25 L422.42,461.46 L425.09,461.71 L427.76,462 L430.43,462.32 L433.1,462.69 L435.77,463.1 L438.44,463.54 L441.11,464.02 L443.78,464.55 L446.45,465.11 L449.12,465.72 L451.79,466.37 L454.47,467.05 L457.14,467.78 L459.81,468.56 L462.48,469.37 L465.15,470.23 L467.82,471.13 L470.49,472.07 L473.16,473.06 L475.83,474.1 L478.5,475.17 L478.5,501.56" fill="none" stroke="#000" stroke-width="1.38" stroke-linejoin="round" stroke-dasharray="4.6 3.0"/>
<line x1="106.6" x2="479.2" y1="501.56" y2="501.56" stroke="#000" stroke-width="1.4"/>
<line x1="60.7" x2="64.3" y1="501.56" y2="501.56" stroke="#000" stroke-width="1.4"/>
<text x="57.1" y="506.86" text-anchor="end" font-size="16.3">0.00</text>
<line x1="60.7" x2="64.3" y1="451.91" y2="451.91" stroke="#000" stroke-width="1.4"/>
<text x="57.1" y="457.21" text-anchor="end" font-size="16.3">0.02</text>
<line x1="60.7" x2="64.3" y1="402.26" y2="402.26" stroke="#000" stroke-width="1.4"/>
<text x="57.1" y="407.56" text-anchor="end" font-size="16.3">0.04</text>
<line x1="60.7" x2="64.3" y1="352.6" y2="352.6" stroke="#000" stroke-width="1.4"/>
<text x="57.1" y="357.9" text-anchor="end" font-size="16.3">0.06</text>
<line y1="508.8" y2="512.4" x1="122.91" x2="122.91" stroke="#000" stroke-width="1.4"/>
<text x="122.91" y="527.1" text-anchor="middle" font-size="16.4">25</text>
<line y1="508.8" y2="512.4" x1="250.33" x2="250.33" stroke="#000" stroke-width="1.4"/>
<text x="250.33" y="527.1" text-anchor="middle" font-size="16.4">50</text>
<line y1="508.8" y2="512.4" x1="377.74" x2="377.74" stroke="#000" stroke-width="1.4"/>
<text x="377.74" y="527.1" text-anchor="middle" font-size="16.4">75</text>
<line y1="508.8" y2="512.4" x1="505.16" x2="505.16" stroke="#000" stroke-width="1.4"/>
<text x="505.16" y="527.1" text-anchor="middle" font-size="16.4">100</text>
<text x="301.9" y="549.3" text-anchor="middle" font-size="19" font-weight="bold">Syntactic Correctness [%]</text>
<text transform="translate(16.3,426) rotate(-90)" text-anchor="middle" font-size="19" font-weight="bold">Density</text>
<rect x="210.5" y="569" width="19.2" height="19.2" fill="#f0f0f0" stroke="#6e6e6e" stroke-width="1"/>
<rect x="210.5" y="569" width="19.2" height="19.2" fill="none" stroke="#000" stroke-width="1.4"/>
<text x="233.6" y="584" font-size="16.6">EPL</text>
<rect x="266.6" y="569" width="19.2" height="19.2" fill="#bebebe" stroke="#6e6e6e" stroke-width="1"/>
<rect x="266.6" y="569" width="19.2" height="19.2" fill="none" stroke="#000" stroke-width="1.4" stroke-dasharray="2.2 1.9"/>
<text x="289.7" y="584" font-size="16.6">LTL</text>
<rect x="321.6" y="569" width="19.2" height="19.2" fill="#666666" stroke="#6e6e6e" stroke-width="1"/>
<rect x="321.6" y="569" width="19.2" height="19.2" fill="none" stroke="#000" stroke-width="1.4" stroke-dasharray="4.5 2.7"/>
<text x="344.7" y="584" font-size="16.6">PSP</text>
</g>
<g>
<rect x="64.3" y="685.7" width="448.5" height="160.5" fill="#ebebeb"/>
<line x1="64.3" x2="512.8" y1="814.1" y2="814.1" stroke="#fff" stroke-width="0.9"/>
<line x1="64.3" x2="512.8" y1="764.49" y2="764.49" stroke="#fff" stroke-width="0.9"/>
<line x1="64.3" x2="512.8" y1="714.88" y2="714.88" stroke="#fff" stroke-width="0.9"/>
<line y1="685.7" y2="846.2" x1="101.67" x2="101.67" stroke="#fff" stroke-width="0.9"/>
<line y1="685.7" y2="846.2" x1="237.58" x2="237.58" stroke="#fff" stroke-width="0.9"/>
<line y1="685.7" y2="846.2" x1="373.49" x2="373.49" stroke="#fff" stroke-width="0.9"/>
<line y1="685.7" y2="846.2" x1="509.4" x2="509.4" stroke="#fff" stroke-width="0.9"/>
<line x1="64.3" x2="512.8" y1="838.9" y2="838.9" stroke="#fff" stroke-width="1.5"/>
<line x1="64.3" x2="512.8" y1="789.3" y2="789.3" stroke="#fff" stroke-width="1.5"/>
<line x1="64.3" x2="512.8" y1="739.69" y2="739.69" stroke="#fff" stroke-width="1.5"/>
<line x1="64.3" x2="512.8" y1="690.08" y2="690.08" stroke="#fff" stroke-width="1.5"/>
<line y1="685.7" y2="846.2" x1="169.63" x2="169.63" stroke="#fff" stroke-width="1.5"/>
<line y1="685.7" y2="846.2" x1="305.54" x2="305.54" stroke="#fff" stroke-width="1.5"/>
<line y1="685.7" y2="846.2" x1="441.45" x2="441.45" stroke="#fff" stroke-width="1.5"/>
<line x1="84.69" x2="96.01" y1="838.9" y2="838.9" stroke="#6e6e6e" stroke-width="1.6"/>
<rect x="96.01" y="815.28" width="11.33" height="23.62" fill="#bebebe" stroke="#6e6e6e" stroke-width="1.25"/>
<rect x="107.34" y="809.72" width="11.33" height="29.18" fill="#666666" stroke="#6e6e6e" stroke-width="1.25"/>
<rect x="118.66" y="797.56" width="11.33" height="41.34" fill="#f0f0f0" stroke="#6e6e6e" stroke-width="1.25"/>
<rect x="129.99" y="768.03" width="11.33" height="70.87" fill="#bebebe" stroke="#6e6e6e" stroke-width="1.25"/>
<rect x="141.32" y="780.54" width="11.33" height="58.36" fill="#666666" stroke="#6e6e6e" stroke-width="1.25"/>
<rect x="152.64" y="818.23" width="11.33" height="20.67" fill="#f0f0f0" stroke="#6e6e6e" stroke-width="1.25"/>
<rect x="163.97" y="815.28" width="11.33" height="23.62" fill="#bebebe" stroke="#6e6e6e" stroke-width="1.25"/>
<rect x="175.29" y="809.72" width="11.33" height="29.18" fill="#666666" stroke="#6e6e6e" stroke-width="1.25"/>
<rect x="186.62" y="797.56" width="11.33" height="41.34" fill="#f0f0f0" stroke="#6e6e6e" stroke-width="1.25"/>
<rect x="197.94" y="720.79" width="11.33" height="118.12" fill="#bebebe" stroke="#6e6e6e" stroke-width="1.25"/>
<line x1="209.27" x2="220.6" y1="838.9" y2="838.9" stroke="#6e6e6e" stroke-width="1.6"/>
<rect x="220.6" y="756.22" width="11.33" height="82.68" fill="#f0f0f0" stroke="#6e6e6e" stroke-width="1.25"/>
<rect x="231.92" y="791.66" width="11.33" height="47.25" fill="#bebebe" stroke="#6e6e6e" stroke-width="1.25"/>
<rect x="243.25" y="780.54" width="11.33" height="58.36" fill="#666666" stroke="#6e6e6e" stroke-width="1.25"/>
<rect x="254.57" y="776.89" width="11.33" height="62.01" fill="#f0f0f0" stroke="#6e6e6e" stroke-width="1.25"/>
<rect x="265.9" y="791.66" width="11.33" height="47.25" fill="#bebebe" stroke="#6e6e6e" stroke-width="1.25"/>
<rect x="277.22" y="780.54" width="11.33" height="58.36" fill="#666666" stroke="#6e6e6e" stroke-width="1.25"/>
<rect x="288.55" y="776.89" width="11.33" height="62.01" fill="#f0f0f0" stroke="#6e6e6e" stroke-width="1.25"/>
<rect x="299.88" y="815.28" width="11.33" height="23.62" fill="#bebebe" stroke="#6e6e6e" stroke-width="1.25"/>
<rect x="311.2" y="809.72" width="11.33" height="29.18" fill="#666666" stroke="#6e6e6e" stroke-width="1.25"/>
<rect x="322.53" y="797.56" width="11.33" height="41.34" fill="#f0f0f0" stroke="#6e6e6e" stroke-width="1.25"/>
<rect x="333.85" y="768.03" width="11.33" height="70.87" fill="#bebebe" stroke="#6e6e6e" stroke-width="1.25"/>
<rect x="345.18" y="693" width="11.33" height="145.91" fill="#666666" stroke="#6e6e6e" stroke-width="1.25"/>
<rect x="356.5" y="797.56" width="11.33" height="41.34" fill="#f0f0f0" stroke="#6e6e6e" stroke-width="1.25"/>
<line x1="367.83" x2="379.16" y1="838.9" y2="838.9" stroke="#6e6e6e" stroke-width="1.6"/>
<rect x="379.16" y="780.54" width="11.33" height="58.36" fill="#666666" stroke="#6e6e6e" stroke-width="1.25"/>
<rect x="390.48" y="797.56" width="11.33" height="41.34" fill="#f0f0f0" stroke="#6e6e6e" stroke-width="1.25"/>
<rect x="401.81" y="791.66" width="11.33" height="47.25" fill="#bebebe" stroke="#6e6e6e" stroke-width="1.25"/>
<rect x="413.13" y="809.72" width="11.33" height="29.18" fill="#666666" stroke="#6e6e6e" stroke-width="1.25"/>
<rect x="424.46" y="776.89" width="11.33" height="62.01" fill="#f0f0f0" stroke="#6e6e6e" stroke-width="1.25"/>
<line x1="435.78" x2="447.11" y1="838.9" y2="838.9" stroke="#6e6e6e" stroke-width="1.6"/>
<line x1="447.11" x2="458.44" y1="838.9" y2="838.9" stroke="#6e6e6e" stroke-width="1.6"/>
<line x1="458.44" x2="469.76" y1="838.9" y2="838.9" stroke="#6e6e6e" stroke-width="1.6"/>
<rect x="469.76" y="815.28" width="11.33" height="23.62" fill="#bebebe" stroke="#6e6e6e" stroke-width="1.25"/>
<line x1="481.09" x2="492.41" y1="838.9" y2="838.9" stroke="#6e6e6e" stroke-width="1.6"/>
<path d="M87.8,838.9 L87.8,831.29 L90.54,830.11 L93.28,828.95 L96.02,827.79 L98.76,826.66 L101.49,825.53 L104.23,824.42 L106.97,823.32 L109.71,822.23 L112.45,821.15 L115.19,820.08 L117.93,819.03 L120.67,817.99 L123.41,816.95 L126.14,815.93 L128.88,814.92 L131.62,813.91 L134.36,812.92 L137.1,811.93 L139.84,810.95 L142.58,809.99 L145.32,809.03 L148.05,808.07 L150.79,807.13 L153.53,806.19 L156.27,805.26 L159.01,804.34 L161.75,803.42 L164.49,802.51 L167.23,801.6 L169.97,800.7 L172.7,799.8 L175.44,798.91 L178.18,798.02 L180.92,797.14 L183.66,796.26 L186.4,795.39 L189.14,794.51 L191.88,793.65 L194.62,792.78 L197.35,791.93 L200.09,791.08 L202.83,790.24 L205.57,789.42 L208.31,788.61 L211.05,787.82 L213.79,787.05 L216.53,786.29 L219.26,785.56 L222,784.86 L224.74,784.18 L227.48,783.52 L230.22,782.9 L232.96,782.31 L235.7,781.75 L238.44,781.23 L241.18,780.75 L243.91,780.3 L246.65,779.9 L249.39,779.53 L252.13,779.22 L254.87,778.95 L257.61,778.73 L260.35,778.56 L263.09,778.44 L265.83,778.37 L268.56,778.37 L271.3,778.42 L274.04,778.53 L276.78,778.69 L279.52,778.91 L282.26,779.18 L285,779.5 L287.74,779.86 L290.47,780.27 L293.21,780.71 L295.95,781.19 L298.69,781.7 L301.43,782.24 L304.17,782.81 L306.91,783.41 L309.65,784.02 L312.39,784.65 L315.12,785.3 L317.86,785.95 L320.6,786.62 L323.34,787.29 L326.08,787.97 L328.82,788.64 L331.56,789.31 L334.3,789.98 L337.04,790.64 L339.77,791.28 L342.51,791.92 L345.25,792.54 L347.99,793.15 L350.73,793.74 L353.47,794.32 L356.21,794.87 L358.95,795.41 L361.68,795.92 L364.42,796.4 L367.16,796.86 L369.9,797.29 L372.64,797.69 L375.38,798.07 L378.12,798.4 L380.86,798.71 L383.6,798.98 L386.33,799.23 L389.07,799.45 L391.81,799.66 L394.55,799.85 L397.29,800.04 L400.03,800.23 L402.77,800.41 L405.51,800.6 L408.25,800.8 L410.98,801.02 L413.72,801.26 L416.46,801.52 L419.2,801.81 L421.94,802.13 L424.68,802.5 L427.42,802.9 L430.16,803.35 L432.89,803.84 L435.63,804.38 L438.37,804.95 L441.11,805.57 L443.85,806.23 L446.59,806.94 L449.33,807.69 L452.07,808.48 L454.81,809.31 L457.54,810.19 L460.28,811.11 L463.02,812.07 L465.76,813.08 L468.5,814.13 L468.5,838.9" fill="none" stroke="#000" stroke-width="1.38" stroke-linejoin="round"/>
<path d="M87.8,838.9 L87.8,815.11 L90.54,813.87 L93.28,812.63 L96.02,811.39 L98.76,810.14 L101.49,808.9 L104.23,807.66 L106.97,806.42 L109.71,805.19 L112.45,803.96 L115.19,802.75 L117.93,801.54 L120.67,800.35 L123.41,799.17 L126.14,798 L128.88,796.85 L131.62,795.72 L134.36,794.61 L137.1,793.52 L139.84,792.45 L142.58,791.41 L145.32,790.4 L148.05,789.41 L150.79,788.46 L153.53,787.54 L156.27,786.66 L159.01,785.81 L161.75,785.01 L164.49,784.24 L167.23,783.52 L169.97,782.84 L172.7,782.21 L175.44,781.63 L178.18,781.1 L180.92,780.62 L183.66,780.19 L186.4,779.81 L189.14,779.49 L191.88,779.23 L194.62,779.02 L197.35,778.87 L200.09,778.78 L202.83,778.74 L205.57,778.77 L208.31,778.86 L211.05,779.01 L213.79,779.23 L216.53,779.51 L219.26,779.85 L222,780.25 L224.74,780.7 L227.48,781.19 L230.22,781.73 L232.96,782.31 L235.7,782.91 L238.44,783.54 L241.18,784.19 L243.91,784.85 L246.65,785.52 L249.39,786.19 L252.13,786.87 L254.87,787.53 L257.61,788.19 L260.35,788.83 L263.09,789.45 L265.83,790.06 L268.56,790.66 L271.3,791.25 L274.04,791.83 L276.78,792.39 L279.52,792.94 L282.26,793.49 L285,794.02 L287.74,794.54 L290.47,795.05 L293.21,795.56 L295.95,796.06 L298.69,796.54 L301.43,797.02 L304.17,797.5 L306.91,797.96 L309.65,798.43 L312.39,798.88 L315.12,799.33 L317.86,799.78 L320.6,800.22 L323.34,800.65 L326.08,801.09 L328.82,801.52 L331.56,801.95 L334.3,802.37 L337.04,802.8 L339.77,803.22 L342.51,803.64 L345.25,804.06 L347.99,804.49 L350.73,804.91 L353.47,805.33 L356.21,805.75 L358.95,806.18 L361.68,806.6 L364.42,807.03 L367.16,807.45 L369.9,807.88 L372.64,808.31 L375.38,808.74 L378.12,809.17 L380.86,809.6 L383.6,810.03 L386.33,810.47 L389.07,810.9 L391.81,811.34 L394.55,811.77 L397.29,812.21 L400.03,812.65 L402.77,813.09 L405.51,813.54 L408.25,813.98 L410.98,814.43 L413.72,814.87 L416.46,815.32 L419.2,815.78 L421.94,816.23 L424.68,816.68 L427.42,817.14 L430.16,817.6 L432.89,818.06 L435.63,818.52 L438.37,818.99 L441.11,819.46 L443.85,819.93 L446.59,820.4 L449.33,820.87 L452.07,821.35 L454.81,821.83 L457.54,822.31 L460.28,822.79 L463.02,823.28 L465.76,823.77 L468.5,824.26 L468.5,838.9" fill="none" stroke="#000" stroke-width="1.38" stroke-linejoin="round" stroke-dasharray="2.1 2.8"/>
<path d="M87.8,838.9 L87.8,818.59 L90.54,817.09 L93.28,815.71 L96.02,814.45 L98.76,813.3 L101.49,812.25 L104.23,811.31 L106.97,810.46 L109.71,809.7 L112.45,809.03 L115.19,808.45 L117.93,807.94 L120.67,807.51 L123.41,807.15 L126.14,806.86 L128.88,806.62 L131.62,806.45 L134.36,806.33 L137.1,806.26 L139.84,806.23 L142.58,806.24 L145.32,806.29 L148.05,806.37 L150.79,806.47 L153.53,806.6 L156.27,806.75 L159.01,806.91 L161.75,807.08 L164.49,807.25 L167.23,807.43 L169.97,807.6 L172.7,807.77 L175.44,807.92 L178.18,808.06 L180.92,808.17 L183.66,808.26 L186.4,808.32 L189.14,808.35 L191.88,808.34 L194.62,808.29 L197.35,808.18 L200.09,808.03 L202.83,807.83 L205.57,807.58 L208.31,807.28 L211.05,806.92 L213.79,806.52 L216.53,806.06 L219.26,805.55 L222,804.99 L224.74,804.37 L227.48,803.7 L230.22,802.98 L232.96,802.2 L235.7,801.36 L238.44,800.47 L241.18,799.53 L243.91,798.53 L246.65,797.47 L249.39,796.35 L252.13,795.18 L254.87,793.94 L257.61,792.65 L260.35,791.31 L263.09,789.91 L265.83,788.48 L268.56,787 L271.3,785.5 L274.04,783.98 L276.78,782.44 L279.52,780.89 L282.26,779.33 L285,777.77 L287.74,776.23 L290.47,774.7 L293.21,773.19 L295.95,771.71 L298.69,770.26 L301.43,768.85 L304.17,767.49 L306.91,766.18 L309.65,764.94 L312.39,763.77 L315.12,762.69 L317.86,761.7 L320.6,760.81 L323.34,760.04 L326.08,759.38 L328.82,758.86 L331.56,758.48 L334.3,758.25 L337.04,758.18 L339.77,758.28 L342.51,758.56 L345.25,759.03 L347.99,759.7 L350.73,760.56 L353.47,761.62 L356.21,762.86 L358.95,764.26 L361.68,765.82 L364.42,767.51 L367.16,769.34 L369.9,771.27 L372.64,773.31 L375.38,775.44 L378.12,777.64 L380.86,779.9 L383.6,782.22 L386.33,784.57 L389.07,786.94 L391.81,789.34 L394.55,791.75 L397.29,794.15 L400.03,796.55 L402.77,798.94 L405.51,801.3 L408.25,803.62 L410.98,805.91 L413.72,808.14 L416.46,810.32 L419.2,812.43 L421.94,814.47 L424.68,816.42 L427.42,818.27 L430.16,820.03 L432.89,821.68 L435.63,823.22 L438.37,824.65 L441.11,825.99 L443.85,827.22 L446.59,828.36 L449.33,829.41 L452.07,830.37 L454.81,831.23 L457.54,832.02 L460.28,832.72 L463.02,833.34 L465.76,833.89 L468.5,834.37 L468.5,838.9" fill="none" stroke="#000" stroke-width="1.38" stroke-linejoin="round" stroke-dasharray="4.6 3.0"/>
<line x1="87.1" x2="469.2" y1="838.9" y2="838.9" stroke="#000" stroke-width="1.4"/>
<line x1="60.7" x2="64.3" y1="838.9" y2="838.9" stroke="#000" stroke-width="1.4"/>
<text x="57.1" y="844.2" text-anchor="end" font-size="16.3">0.00</text>
<line x1="60.7" x2="64.3" y1="789.3" y2="789.3" stroke="#000" stroke-width="1.4"/>
<text x="57.1" y="794.6" text-anchor="end" font-size="16.3">0.02</text>
<line x1="60.7" x2="64.3" y1="739.69" y2="739.69" stroke="#000" stroke-width="1.4"/>
<text x="57.1" y="744.99" text-anchor="end" font-size="16.3">0.04</text>
<line x1="60.7" x2="64.3" y1="690.08" y2="690.08" stroke="#000" stroke-width="1.4"/>
<text x="57.1" y="695.38" text-anchor="end" font-size="16.3">0.06</text>
<line y1="846.2" y2="849.8" x1="169.63" x2="169.63" stroke="#000" stroke-width="1.4"/>
<text x="169.63" y="863.6" text-anchor="middle" font-size="16.4">40</text>
<line y1="846.2" y2="849.8" x1="305.54" x2="305.54" stroke="#000" stroke-width="1.4"/>
<text x="305.54" y="863.6" text-anchor="middle" font-size="16.4">60</text>
<line y1="846.2" y2="849.8" x1="441.45" x2="441.45" stroke="#000" stroke-width="1.4"/>
<text x="441.45" y="863.6" text-anchor="middle" font-size="16.4">80</text>
<text x="296.5" y="885.4" text-anchor="middle" font-size="19" font-weight="bold">Time [Minute]</text>
<text transform="translate(16.3,763) rotate(-90)" text-anchor="middle" font-size="19" font-weight="bold">Density</text>
<rect x="210.5" y="905.2" width="19.2" height="19.2" fill="#f0f0f0" stroke="#6e6e6e" stroke-width="1"/>
<rect x="210.5" y="905.2" width="19.2" height="19.2" fill="none" stroke="#000" stroke-width="1.4"/>
<text x="233.6" y="920.2" font-size="16.6">EPL</text>
<rect x="266.6" y="905.2" width="19.2" height="19.2" fill="#bebebe" stroke="#6e6e6e" stroke-width="1"/>
<rect x="266.6" y="905.2" width="19.2" height="19.2" fill="none" stroke="#000" stroke-width="1.4" stroke-dasharray="2.2 1.9"/>
<text x="289.7" y="920.2" font-size="16.6">LTL</text>
<rect x="321.6" y="905.2" width="19.2" height="19.2" fill="#666666" stroke="#6e6e6e" stroke-width="1"/>
<rect x="321.6" y="905.2" width="19.2" height="19.2" fill="none" stroke="#000" stroke-width="1.4" stroke-dasharray="4.5 2.7"/>
<text x="344.7" y="920.2" font-size="16.6">PSP</text>
</g>
<g>
<line x1="659.3" x2="659.3" y1="10.16" y2="65.34" stroke="#000" stroke-width="1.25" stroke-dasharray="4 4"/>
<line x1="659.3" x2="659.3" y1="195.39" y2="124.71" stroke="#000" stroke-width="1.25" stroke-dasharray="4 4"/>
<line x1="653.3" x2="665.3" y1="10.16" y2="10.16" stroke="#000" stroke-width="1.25"/>
<line x1="653.3" x2="665.3" y1="195.39" y2="195.39" stroke="#000" stroke-width="1.25"/>
<rect x="647.4" y="65.34" width="23.8" height="59.38" fill="#f0f0f0" stroke="#000" stroke-width="1.25"/>
<line x1="647.4" x2="671.2" y1="91.48" y2="91.48" stroke="#000" stroke-width="3.4"/>
<line x1="706.8" x2="706.8" y1="54.37" y2="126.97" stroke="#000" stroke-width="1.25" stroke-dasharray="4 4"/>
<line x1="706.8" x2="706.8" y1="217.01" y2="193.13" stroke="#000" stroke-width="1.25" stroke-dasharray="4 4"/>
<line x1="700.8" x2="712.8" y1="54.37" y2="54.37" stroke="#000" stroke-width="1.25"/>
<line x1="700.8" x2="712.8" y1="217.01" y2="217.01" stroke="#000" stroke-width="1.25"/>
<rect x="694.9" y="126.97" width="23.8" height="66.15" fill="#bebebe" stroke="#000" stroke-width="1.25"/>
<line x1="694.9" x2="718.7" y1="162.47" y2="162.47" stroke="#000" stroke-width="3.4"/>
<line x1="754.4" x2="754.4" y1="13.71" y2="66.63" stroke="#000" stroke-width="1.25" stroke-dasharray="4 4"/>
<line x1="754.4" x2="754.4" y1="200.87" y2="145.37" stroke="#000" stroke-width="1.25" stroke-dasharray="4 4"/>
<line x1="748.4" x2="760.4" y1="13.71" y2="13.71" stroke="#000" stroke-width="1.25"/>
<line x1="748.4" x2="760.4" y1="200.87" y2="200.87" stroke="#000" stroke-width="1.25"/>
<rect x="742.5" y="66.63" width="23.8" height="78.74" fill="#666666" stroke="#000" stroke-width="1.25"/>
<line x1="742.5" x2="766.3" y1="103.42" y2="103.42" stroke="#000" stroke-width="3.4"/>
<rect x="629.9" y="1.6" width="154.5" height="223.9" fill="none" stroke="#000" stroke-width="1.25"/>
<line x1="624.4" x2="629.9" y1="193.45" y2="193.45" stroke="#000" stroke-width="1.25"/>
<text x="613.8" y="198.95" text-anchor="end" font-size="16.9">20</text>
<line x1="624.4" x2="629.9" y1="161.18" y2="161.18" stroke="#000" stroke-width="1.25"/>
<text x="613.8" y="166.68" text-anchor="end" font-size="16.9">30</text>
<line x1="624.4" x2="629.9" y1="128.91" y2="128.91" stroke="#000" stroke-width="1.25"/>
<text x="613.8" y="134.41" text-anchor="end" font-size="16.9">40</text>
<line x1="624.4" x2="629.9" y1="96.64" y2="96.64" stroke="#000" stroke-width="1.25"/>
<text x="613.8" y="102.14" text-anchor="end" font-size="16.9">50</text>
<line x1="624.4" x2="629.9" y1="64.37" y2="64.37" stroke="#000" stroke-width="1.25"/>
<text x="613.8" y="69.87" text-anchor="end" font-size="16.9">60</text>
<line x1="624.4" x2="629.9" y1="32.1" y2="32.1" stroke="#000" stroke-width="1.25"/>
<text x="613.8" y="37.6" text-anchor="end" font-size="16.9">70</text>
<line x1="659.3" x2="659.3" y1="225.5" y2="231" stroke="#000" stroke-width="1.25"/>
<text x="659.3" y="249.4" text-anchor="middle" font-size="17.1">EPL</text>
<line x1="706.8" x2="706.8" y1="225.5" y2="231" stroke="#000" stroke-width="1.25"/>
<text x="706.8" y="249.4" text-anchor="middle" font-size="17.1">LTL</text>
<line x1="754.4" x2="754.4" y1="225.5" y2="231" stroke="#000" stroke-width="1.25"/>
<text x="754.4" y="249.4" text-anchor="middle" font-size="17.1">PSP</text>
<text transform="translate(579.9,115.6) rotate(-90)" text-anchor="middle" font-size="18.8" font-weight="bold">Semantic Correctness [%]</text>
</g>
<g>
<line x1="659.3" x2="659.3" y1="349.54" y2="392.03" stroke="#000" stroke-width="1.25" stroke-dasharray="4 4"/>
<line x1="659.3" x2="659.3" y1="479.57" y2="430.56" stroke="#000" stroke-width="1.25" stroke-dasharray="4 4"/>
<line x1="653.3" x2="665.3" y1="349.54" y2="349.54" stroke="#000" stroke-width="1.25"/>
<line x1="653.3" x2="665.3" y1="479.57" y2="479.57" stroke="#000" stroke-width="1.25"/>
<rect x="647.4" y="392.03" width="23.8" height="38.53" fill="#f0f0f0" stroke="#000" stroke-width="1.25"/>
<line x1="647.4" x2="671.2" y1="413.28" y2="413.28" stroke="#000" stroke-width="3.4"/>
<line x1="706.8" x2="706.8" y1="385.52" y2="420.65" stroke="#000" stroke-width="1.25" stroke-dasharray="4 4"/>
<line x1="706.8" x2="706.8" y1="533.97" y2="482.12" stroke="#000" stroke-width="1.25" stroke-dasharray="4 4"/>
<line x1="700.8" x2="712.8" y1="385.52" y2="385.52" stroke="#000" stroke-width="1.25"/>
<line x1="700.8" x2="712.8" y1="533.97" y2="533.97" stroke="#000" stroke-width="1.25"/>
<rect x="694.9" y="420.65" width="23.8" height="61.48" fill="#bebebe" stroke="#000" stroke-width="1.25"/>
<line x1="694.9" x2="718.7" y1="456.91" y2="456.91" stroke="#000" stroke-width="3.4"/>
<line x1="754.4" x2="754.4" y1="363.99" y2="374.19" stroke="#000" stroke-width="1.25" stroke-dasharray="4 4"/>
<line x1="754.4" x2="754.4" y1="556.06" y2="464.56" stroke="#000" stroke-width="1.25" stroke-dasharray="4 4"/>
<line x1="748.4" x2="760.4" y1="363.99" y2="363.99" stroke="#000" stroke-width="1.25"/>
<line x1="748.4" x2="760.4" y1="556.06" y2="556.06" stroke="#000" stroke-width="1.25"/>
<rect x="742.5" y="374.19" width="23.8" height="90.37" fill="#666666" stroke="#000" stroke-width="1.25"/>
<line x1="742.5" x2="766.3" y1="425.18" y2="425.18" stroke="#000" stroke-width="3.4"/>
<circle cx="659.3" cy="528.02" r="2.6" fill="none" stroke="#000" stroke-width="1.25"/>
<rect x="629.9" y="341.5" width="154.5" height="223.3" fill="none" stroke="#000" stroke-width="1.25"/>
<line x1="624.4" x2="629.9" y1="560.88" y2="560.88" stroke="#000" stroke-width="1.25"/>
<text x="613.8" y="566.38" text-anchor="end" font-size="16.9">20</text>
<line x1="624.4" x2="629.9" y1="504.22" y2="504.22" stroke="#000" stroke-width="1.25"/>
<text x="613.8" y="509.72" text-anchor="end" font-size="16.9">40</text>
<line x1="624.4" x2="629.9" y1="447.56" y2="447.56" stroke="#000" stroke-width="1.25"/>
<text x="613.8" y="453.06" text-anchor="end" font-size="16.9">60</text>
<line x1="624.4" x2="629.9" y1="390.9" y2="390.9" stroke="#000" stroke-width="1.25"/>
<text x="613.8" y="396.4" text-anchor="end" font-size="16.9">80</text>
<line x1="659.3" x2="659.3" y1="564.8" y2="570.3" stroke="#000" stroke-width="1.25"/>
<text x="659.3" y="588.7" text-anchor="middle" font-size="17.1">EPL</text>
<line x1="706.8" x2="706.8" y1="564.8" y2="570.3" stroke="#000" stroke-width="1.25"/>
<text x="706.8" y="588.7" text-anchor="middle" font-size="17.1">LTL</text>
<line x1="754.4" x2="754.4" y1="564.8" y2="570.3" stroke="#000" stroke-width="1.25"/>
<text x="754.4" y="588.7" text-anchor="middle" font-size="17.1">PSP</text>
<text transform="translate(579.9,456.5) rotate(-90)" text-anchor="middle" font-size="18.8" font-weight="bold">Syntactic Correctness [%]</text>
</g>
<g>
<line x1="659.3" x2="659.3" y1="693.28" y2="735.4" stroke="#000" stroke-width="1.25" stroke-dasharray="4 4"/>
<line x1="659.3" x2="659.3" y1="858.45" y2="816.32" stroke="#000" stroke-width="1.25" stroke-dasharray="4 4"/>
<line x1="653.3" x2="665.3" y1="693.28" y2="693.28" stroke="#000" stroke-width="1.25"/>
<line x1="653.3" x2="665.3" y1="858.45" y2="858.45" stroke="#000" stroke-width="1.25"/>
<rect x="647.4" y="735.4" width="23.8" height="80.92" fill="#f0f0f0" stroke="#000" stroke-width="1.25"/>
<line x1="647.4" x2="671.2" y1="781.59" y2="781.59" stroke="#000" stroke-width="3.4"/>
<line x1="706.8" x2="706.8" y1="685.52" y2="755.72" stroke="#000" stroke-width="1.25" stroke-dasharray="4 4"/>
<line x1="706.8" x2="706.8" y1="892.44" y2="837.01" stroke="#000" stroke-width="1.25" stroke-dasharray="4 4"/>
<line x1="700.8" x2="712.8" y1="685.52" y2="685.52" stroke="#000" stroke-width="1.25"/>
<line x1="700.8" x2="712.8" y1="892.44" y2="892.44" stroke="#000" stroke-width="1.25"/>
<rect x="694.9" y="755.72" width="23.8" height="81.29" fill="#bebebe" stroke="#000" stroke-width="1.25"/>
<line x1="694.9" x2="718.7" y1="814.84" y2="814.84" stroke="#000" stroke-width="3.4"/>
<line x1="754.4" x2="754.4" y1="726.16" y2="755.72" stroke="#000" stroke-width="1.25" stroke-dasharray="4 4"/>
<line x1="754.4" x2="754.4" y1="886.9" y2="815.58" stroke="#000" stroke-width="1.25" stroke-dasharray="4 4"/>
<line x1="748.4" x2="760.4" y1="726.16" y2="726.16" stroke="#000" stroke-width="1.25"/>
<line x1="748.4" x2="760.4" y1="886.9" y2="886.9" stroke="#000" stroke-width="1.25"/>
<rect x="742.5" y="755.72" width="23.8" height="59.86" fill="#666666" stroke="#000" stroke-width="1.25"/>
<line x1="742.5" x2="766.3" y1="766.81" y2="766.81" stroke="#000" stroke-width="3.4"/>
<rect x="629.9" y="677.2" width="154.5" height="223.3" fill="none" stroke="#000" stroke-width="1.25"/>
<line x1="624.4" x2="629.9" y1="885.05" y2="885.05" stroke="#000" stroke-width="1.25"/>
<text x="613.8" y="890.55" text-anchor="end" font-size="16.9">30</text>
<line x1="624.4" x2="629.9" y1="848.1" y2="848.1" stroke="#000" stroke-width="1.25"/>
<text x="613.8" y="853.6" text-anchor="end" font-size="16.9">40</text>
<line x1="624.4" x2="629.9" y1="811.15" y2="811.15" stroke="#000" stroke-width="1.25"/>
<text x="613.8" y="816.65" text-anchor="end" font-size="16.9">50</text>
<line x1="624.4" x2="629.9" y1="774.2" y2="774.2" stroke="#000" stroke-width="1.25"/>
<text x="613.8" y="779.7" text-anchor="end" font-size="16.9">60</text>
<line x1="624.4" x2="629.9" y1="737.25" y2="737.25" stroke="#000" stroke-width="1.25"/>
<text x="613.8" y="742.75" text-anchor="end" font-size="16.9">70</text>
<line x1="624.4" x2="629.9" y1="700.3" y2="700.3" stroke="#000" stroke-width="1.25"/>
<text x="613.8" y="705.8" text-anchor="end" font-size="16.9">80</text>
<line x1="659.3" x2="659.3" y1="900.5" y2="906" stroke="#000" stroke-width="1.25"/>
<text x="659.3" y="924.9" text-anchor="middle" font-size="17.1">EPL</text>
<line x1="706.8" x2="706.8" y1="900.5" y2="906" stroke="#000" stroke-width="1.25"/>
<text x="706.8" y="924.9" text-anchor="middle" font-size="17.1">LTL</text>
<line x1="754.4" x2="754.4" y1="900.5" y2="906" stroke="#000" stroke-width="1.25"/>
<text x="754.4" y="924.9" text-anchor="middle" font-size="17.1">PSP</text>
<text transform="translate(579.9,794.3) rotate(-90)" text-anchor="middle" font-size="18.8" font-weight="bold">Response Time [Minute]</text>
</g>
<text x="61.1" y="287.4" font-size="18.3" textLength="26.2" lengthAdjust="spacingAndGlyphs" font-weight="bold">(a)</text>
<text x="96" y="287.4" font-size="18.3" textLength="55.5" lengthAdjust="spacingAndGlyphs">Kernel</text>
<text x="160.2" y="287.4" font-size="18.3" textLength="59.5" lengthAdjust="spacingAndGlyphs">density</text>
<text x="229" y="287.4" font-size="18.3" textLength="39.3" lengthAdjust="spacingAndGlyphs">plot:</text>
<text x="275.4" y="287.4" font-size="18.3" textLength="79.4" lengthAdjust="spacingAndGlyphs">Semantic</text>
<text x="362.5" y="287.4" font-size="18.3" textLength="100.8" lengthAdjust="spacingAndGlyphs">Correctness</text>
<text x="61.1" y="626.3" font-size="18.3" textLength="24.7" lengthAdjust="spacingAndGlyphs" font-weight="bold">(c)</text>
<text x="94.8" y="626.3" font-size="18.3" textLength="55.8" lengthAdjust="spacingAndGlyphs">Kernel</text>
<text x="159" y="626.3" font-size="18.3" textLength="59.8" lengthAdjust="spacingAndGlyphs">density</text>
<text x="227.8" y="626.3" font-size="18.3" textLength="39.3" lengthAdjust="spacingAndGlyphs">plot:</text>
<text x="274.2" y="626.3" font-size="18.3" textLength="80.6" lengthAdjust="spacingAndGlyphs">Syntactic</text>
<text x="362.5" y="626.3" font-size="18.3" textLength="100.8" lengthAdjust="spacingAndGlyphs">Correctness</text>
<text x="93.9" y="962.3" font-size="18.3" textLength="25.8" lengthAdjust="spacingAndGlyphs" font-weight="bold">(e)</text>
<text x="128.4" y="962.3" font-size="18.3" textLength="55.6" lengthAdjust="spacingAndGlyphs">Kernel</text>
<text x="192.6" y="962.3" font-size="18.3" textLength="59.9" lengthAdjust="spacingAndGlyphs">density</text>
<text x="261.5" y="962.3" font-size="18.3" textLength="39.3" lengthAdjust="spacingAndGlyphs">plot:</text>
<text x="308.5" y="962.3" font-size="18.3" textLength="80.6" lengthAdjust="spacingAndGlyphs">Response</text>
<text x="396.5" y="962.3" font-size="18.3" textLength="38.4" lengthAdjust="spacingAndGlyphs">time</text>
<text x="559.8" y="287.8" font-size="18.3" textLength="27.6" lengthAdjust="spacingAndGlyphs" font-weight="bold">(b)</text>
<text x="595.7" y="287.8" font-size="18.3" textLength="33.9" lengthAdjust="spacingAndGlyphs">Box</text>
<text x="646.6" y="287.8" font-size="18.3" textLength="40.1" lengthAdjust="spacingAndGlyphs">plot:</text>
<text x="703.4" y="287.8" font-size="18.3" textLength="79.7" lengthAdjust="spacingAndGlyphs">Semantic</text>
<text x="559.8" y="308.9" font-size="18.3" textLength="101" lengthAdjust="spacingAndGlyphs">Correctness</text>
<text x="559.8" y="626.8" font-size="18.3" textLength="27.6" lengthAdjust="spacingAndGlyphs" font-weight="bold">(d)</text>
<text x="595.7" y="626.8" font-size="18.3" textLength="33.9" lengthAdjust="spacingAndGlyphs">Box</text>
<text x="646.6" y="626.8" font-size="18.3" textLength="40.1" lengthAdjust="spacingAndGlyphs">plot:</text>
<text x="701.8" y="626.8" font-size="18.3" textLength="81.3" lengthAdjust="spacingAndGlyphs">Syntactic</text>
<text x="559.8" y="648.6" font-size="18.3" textLength="101" lengthAdjust="spacingAndGlyphs">Correctness</text>
<text x="559.8" y="963" font-size="18.3" textLength="22.9" lengthAdjust="spacingAndGlyphs" font-weight="bold">(f)</text>
<text x="591" y="963" font-size="18.3" textLength="33.9" lengthAdjust="spacingAndGlyphs">Box</text>
<text x="642.5" y="963" font-size="18.3" textLength="40.1" lengthAdjust="spacingAndGlyphs">plot:</text>
<text x="699.6" y="963" font-size="18.3" textLength="81.3" lengthAdjust="spacingAndGlyphs">Response</text>
<text x="559.8" y="984.8" font-size="18.3" textLength="39.2" lengthAdjust="spacingAndGlyphs">time</text>
</svg></body></html>
